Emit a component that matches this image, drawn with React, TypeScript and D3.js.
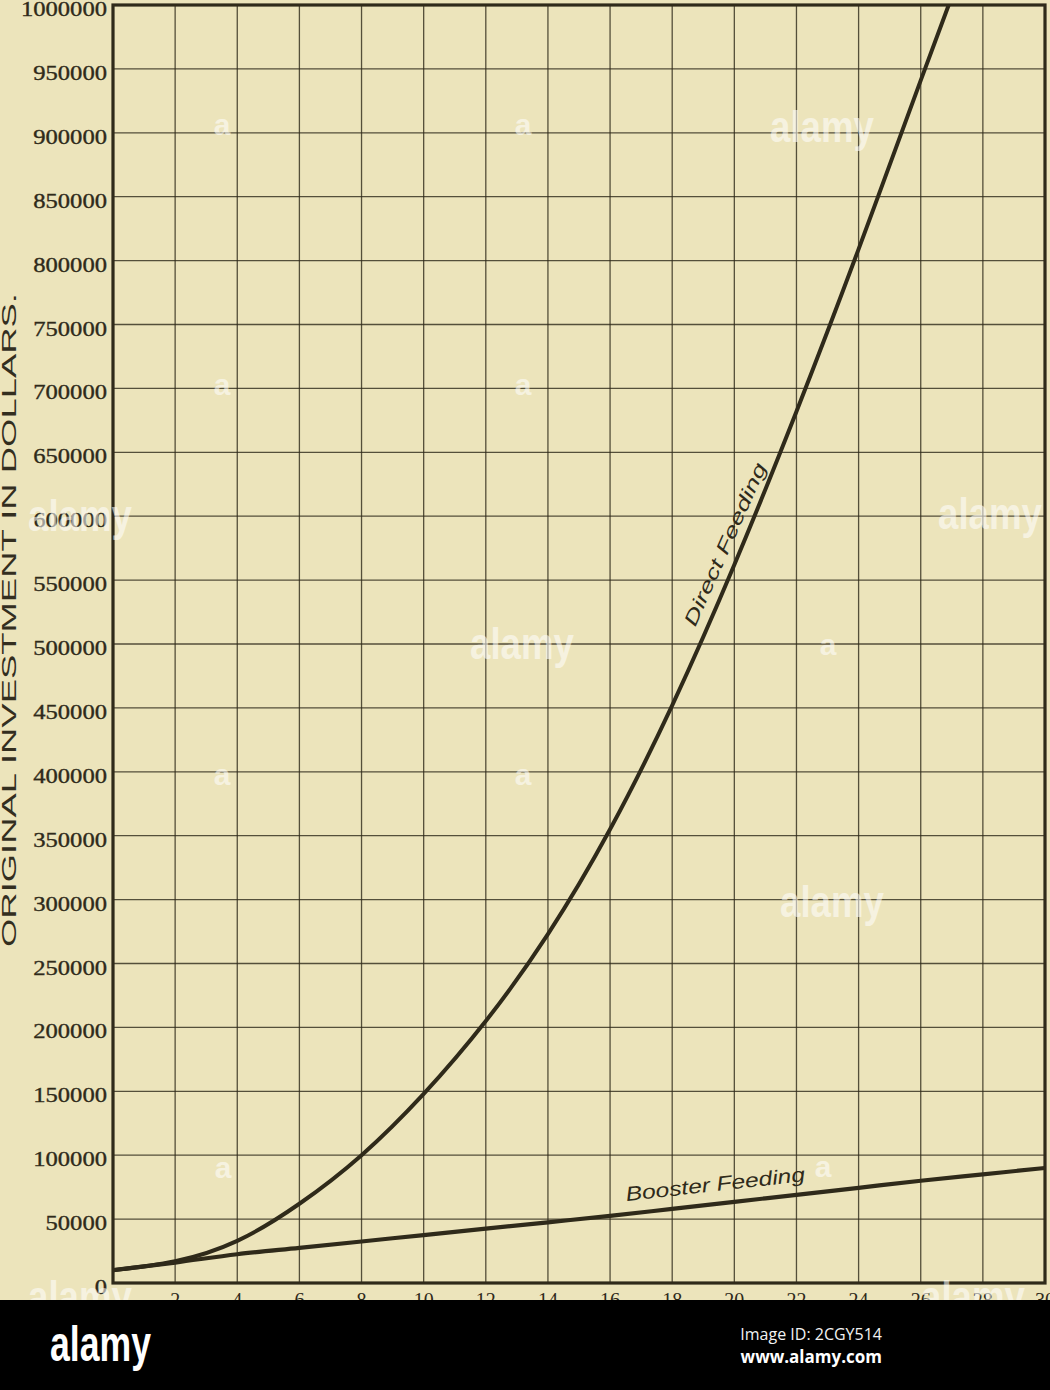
import React from "react";
import * as d3 from "d3";

const W = 1050;
const H = 1390;

// x axis: years (even ticks)
const xTicks = [0, 2, 4, 6, 8, 10, 12, 14, 16, 18, 20, 22, 24, 26, 28, 30];
const xTickLabels = ["2", "4", "6", "8", "10", "12", "14", "16", "18", "20", "22", "24", "26", "28", "30"];
const yTicks = [0, 50000, 100000, 150000, 200000, 250000, 300000, 350000, 400000, 450000, 500000,
  550000, 600000, 650000, 700000, 750000, 800000, 850000, 900000, 950000, 1000000];
const yTickLabels = ["0", "50000", "100000", "150000", "200000", "250000", "300000", "350000", "400000", "450000", "500000",
  "550000", "600000", "650000", "700000", "750000", "800000", "850000", "900000", "950000", "1000000"];

const directX = [0, 2, 4, 6, 8, 10, 12, 14, 16, 18, 20, 22, 24, 26, 26.9];
const directY = [10000, 17000, 33000, 62000, 100000, 148000, 205000, 273000, 355000, 452000, 562000, 682000, 809000, 941000, 1000000];

const boosterX = [0, 2, 4, 6, 8, 10, 12, 14, 16, 18, 20, 22, 24, 26, 28, 30];
const boosterY = [10000, 16000, 22500, 27500, 32500, 37500, 42500, 47500, 52500, 58000, 63500, 69000, 74500, 80000, 85000, 90000];

const yTitle = "ORIGINAL INVESTMENT IN DOLLARS.";
const directLabel = "Direct Feeding";
const boosterLabel = "Booster Feeding";

const watermarksSmall = [[222, 125], [523, 125], [222, 385], [523, 385], [828, 645], [222, 775], [523, 775], [223, 1168], [823, 1167]];
const watermarksBig = [[822, 128], [80, 517], [990, 515], [522, 645], [832, 903], [80, 1298], [973, 1298]];

const PAPER = "#ece4bb";
const INK = "#2f2a1a";

export default function App() {
  const x = d3.scaleLinear().domain([0, 30]).range([113, 1045]);
  const y = d3.scaleLinear().domain([0, 1000000]).range([1283, 5]);
  const directLine = d3.line<[number, number]>().x(d => x(d[0])).y(d => y(d[1])).curve(d3.curveNatural);
  const boosterLine = d3.line<[number, number]>().x(d => x(d[0])).y(d => y(d[1])).curve(d3.curveMonotoneX);
  const direct = directLine(directX.map((v, i) => [v, directY[i]]) as [number, number][]) || "";
  const booster = boosterLine(boosterX.map((v, i) => [v, boosterY[i]]) as [number, number][]) || "";

  const b1 = [x(15), y(50000)];
  const b2 = [x(22), y(69000)];
  const bAngle = (Math.atan2(b2[1] - b1[1], b2[0] - b1[0]) * 180) / Math.PI;

  return (
    <svg width={W} height={H} style={{ position: "absolute", left: 0, top: 0, background: PAPER }}>
      <defs>
        <clipPath id="plotclip">
          <rect x={x(0)} y={y(1000000)} width={x(30) - x(0)} height={y(0) - y(1000000)} />
        </clipPath>
      </defs>
      <rect x={0} y={0} width={W} height={H} fill={PAPER} />

      {/* grid */}
      {xTicks.map(t => (
        <line key={"gx" + t} x1={x(t)} x2={x(t)} y1={y(1000000)} y2={y(0)} stroke={INK} strokeWidth={1.3} opacity={0.8} />
      ))}
      {yTicks.map(t => (
        <line key={"gy" + t} x1={x(0)} x2={x(30)} y1={y(t)} y2={y(t)} stroke={INK} strokeWidth={1.3} opacity={0.8} />
      ))}
      <rect x={x(0)} y={y(1000000)} width={x(30) - x(0)} height={y(0) - y(1000000)} fill="none" stroke={INK} strokeWidth={3.2} />

      {/* curves */}
      <g clipPath="url(#plotclip)">
        <path d={direct} fill="none" stroke={INK} strokeWidth={4} strokeLinecap="round" />
        <path d={booster} fill="none" stroke={INK} strokeWidth={4.2} strokeLinecap="round" />
      </g>

      {/* curve labels */}
      <text
        transform={`translate(731,547) rotate(-66)`}
        textAnchor="middle"
        fontFamily="'Liberation Sans', Arial, sans-serif"
        fontStyle="italic"
        fontSize={19}
        fill={INK}
        textLength={176}
        lengthAdjust="spacingAndGlyphs"
      >
        {directLabel}
      </text>
      <text
        transform={`translate(716,1191) rotate(${bAngle})`}
        textAnchor="middle"
        fontFamily="'Liberation Sans', Arial, sans-serif"
        fontStyle="italic"
        fontSize={20}
        fill={INK}
        textLength={180}
        lengthAdjust="spacingAndGlyphs"
      >
        {boosterLabel}
      </text>

      {/* y tick labels */}
      {yTicks.map((t, i) => (
        <text
          key={"yl" + t}
          x={107}
          y={y(t) + 11}
          textAnchor="end"
          fontFamily="'Liberation Serif', 'DejaVu Serif', serif"
          fontSize={20}
          fill={INK}
          stroke={INK}
          strokeWidth={0.35}
          textLength={yTickLabels[i].length * 12.3}
          lengthAdjust="spacingAndGlyphs"
        >
          {yTickLabels[i]}
        </text>
      ))}

      {/* x tick labels (partly hidden by banner) */}
      {xTicks.slice(1).map((t, i) => (
        <text
          key={"xl" + t}
          x={x(t)}
          y={1307}
          textAnchor="middle"
          fontFamily="'Liberation Serif', 'DejaVu Serif', serif"
          fontSize={20}
          fill={INK}
        >
          {xTickLabels[i]}
        </text>
      ))}

      {/* y axis title */}
      <text
        transform="translate(16,620) rotate(-90)"
        textAnchor="middle"
        fontFamily="'Liberation Sans', Arial, sans-serif"
        fontSize={21}
        fill="#332e1f"
        textLength={654}
        lengthAdjust="spacingAndGlyphs"
      >
        {yTitle}
      </text>

      {/* watermarks */}
      <g fill="#ffffff" opacity={0.55} fontFamily="'Liberation Sans', Arial, sans-serif" fontWeight="bold">
        {watermarksSmall.map(([cx, cy], i) => (
          <text key={"ws" + i} x={cx} y={cy + 10} textAnchor="middle" fontSize={30}>a</text>
        ))}
        {watermarksBig.map(([cx, cy], i) => (
          <text key={"wb" + i} x={cx} y={cy + 14} textAnchor="middle" fontSize={44} textLength={104} lengthAdjust="spacingAndGlyphs">alamy</text>
        ))}
      </g>

      {/* banner */}
      <rect x={0} y={1300} width={W} height={H - 1300} fill="#000000" />
      <text x={50} y={1361} fontFamily="'Liberation Sans Narrow', 'Liberation Sans', Arial, sans-serif" fontWeight="bold" fontSize={50} fill="#ffffff" textLength={101} lengthAdjust="spacingAndGlyphs">alamy</text>
      <text x={882} y={1340} textAnchor="end" fontFamily="'Open Sans', 'Noto Sans', sans-serif" fontSize={16} fill="#f2f2f2">Image ID: 2CGY514</text>
      <text x={882} y={1363} textAnchor="end" fontFamily="'Open Sans', 'Noto Sans', sans-serif" fontWeight="bold" fontSize={17} fill="#ffffff">www.alamy.com</text>
    </svg>
  );
}
